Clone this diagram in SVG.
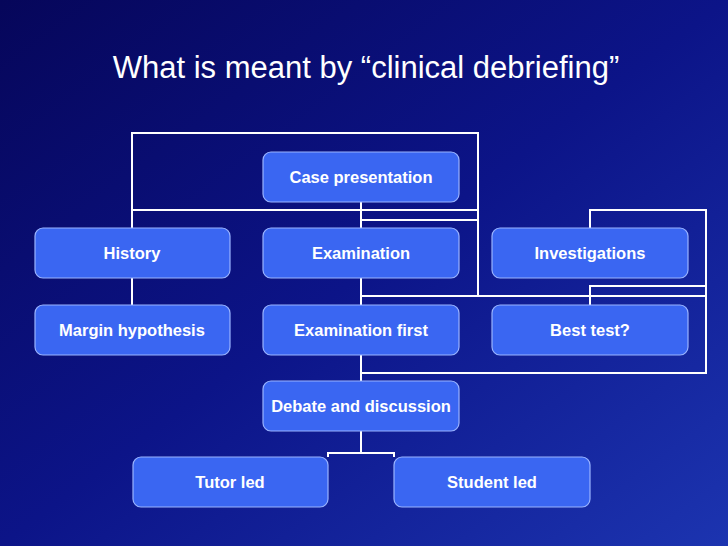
<svg xmlns="http://www.w3.org/2000/svg" width="728" height="546" viewBox="0 0 728 546">
<defs>
<linearGradient id="bg" x1="0" y1="0" x2="1" y2="1">
<stop offset="0" stop-color="#06065a"/>
<stop offset="0.5" stop-color="#0c1488"/>
<stop offset="1" stop-color="#1c34b0"/>
</linearGradient>
<style>
.b{fill:#3a66f2;stroke:#9ab4ff;stroke-width:1.2}
.t{font-family:"Liberation Sans",Arial,sans-serif;font-weight:bold;font-size:16.5px;fill:#fff;text-anchor:middle}
.c{fill:none;stroke:#fff;stroke-width:2}
</style>
</defs>
<rect width="728" height="546" fill="url(#bg)"/>
<text x="366" y="78" font-family="Liberation Sans,Arial,sans-serif" font-size="31" fill="#fff" text-anchor="middle">What is meant by “clinical debriefing”</text>
<g id="connectors" class="c">
<path d="M132 228V133H478V296H361"/>
<path d="M132 210H478"/>
<path d="M361 202V228"/>
<path d="M361 220H478"/>
<path d="M361 278V305"/>
<path d="M132 278V305"/>
<path d="M590 228V210H706V373H361"/>
<path d="M478 296H706"/>
<path d="M706 286H590V305"/>
<path d="M361 355V381"/>
<path d="M361 431V453H328V457M361 453H394V457"/>
</g>
<g id="case"><rect class="b" x="263" y="152" width="196" height="50" rx="8"/><text class="t" x="361" y="183">Case presentation</text></g>
<g id="history"><rect class="b" x="35" y="228" width="195" height="50" rx="8"/><text class="t" x="132" y="259">History</text></g>
<g id="examination"><rect class="b" x="263" y="228" width="196" height="50" rx="8"/><text class="t" x="361" y="259">Examination</text></g>
<g id="investigations"><rect class="b" x="492" y="228" width="196" height="50" rx="8"/><text class="t" x="590" y="259">Investigations</text></g>
<g id="margin"><rect class="b" x="35" y="305" width="195" height="50" rx="8"/><text class="t" x="132" y="336">Margin hypothesis</text></g>
<g id="examfirst"><rect class="b" x="263" y="305" width="196" height="50" rx="8"/><text class="t" x="361" y="336">Examination first</text></g>
<g id="besttest"><rect class="b" x="492" y="305" width="196" height="50" rx="8"/><text class="t" x="590" y="336">Best test?</text></g>
<g id="debate"><rect class="b" x="263" y="381" width="196" height="50" rx="8"/><text class="t" x="361" y="412">Debate and discussion</text></g>
<g id="tutor"><rect class="b" x="133" y="457" width="195" height="50" rx="8"/><text class="t" x="230" y="488">Tutor led</text></g>
<g id="student"><rect class="b" x="394" y="457" width="196" height="50" rx="8"/><text class="t" x="492" y="488">Student led</text></g>
</svg>
